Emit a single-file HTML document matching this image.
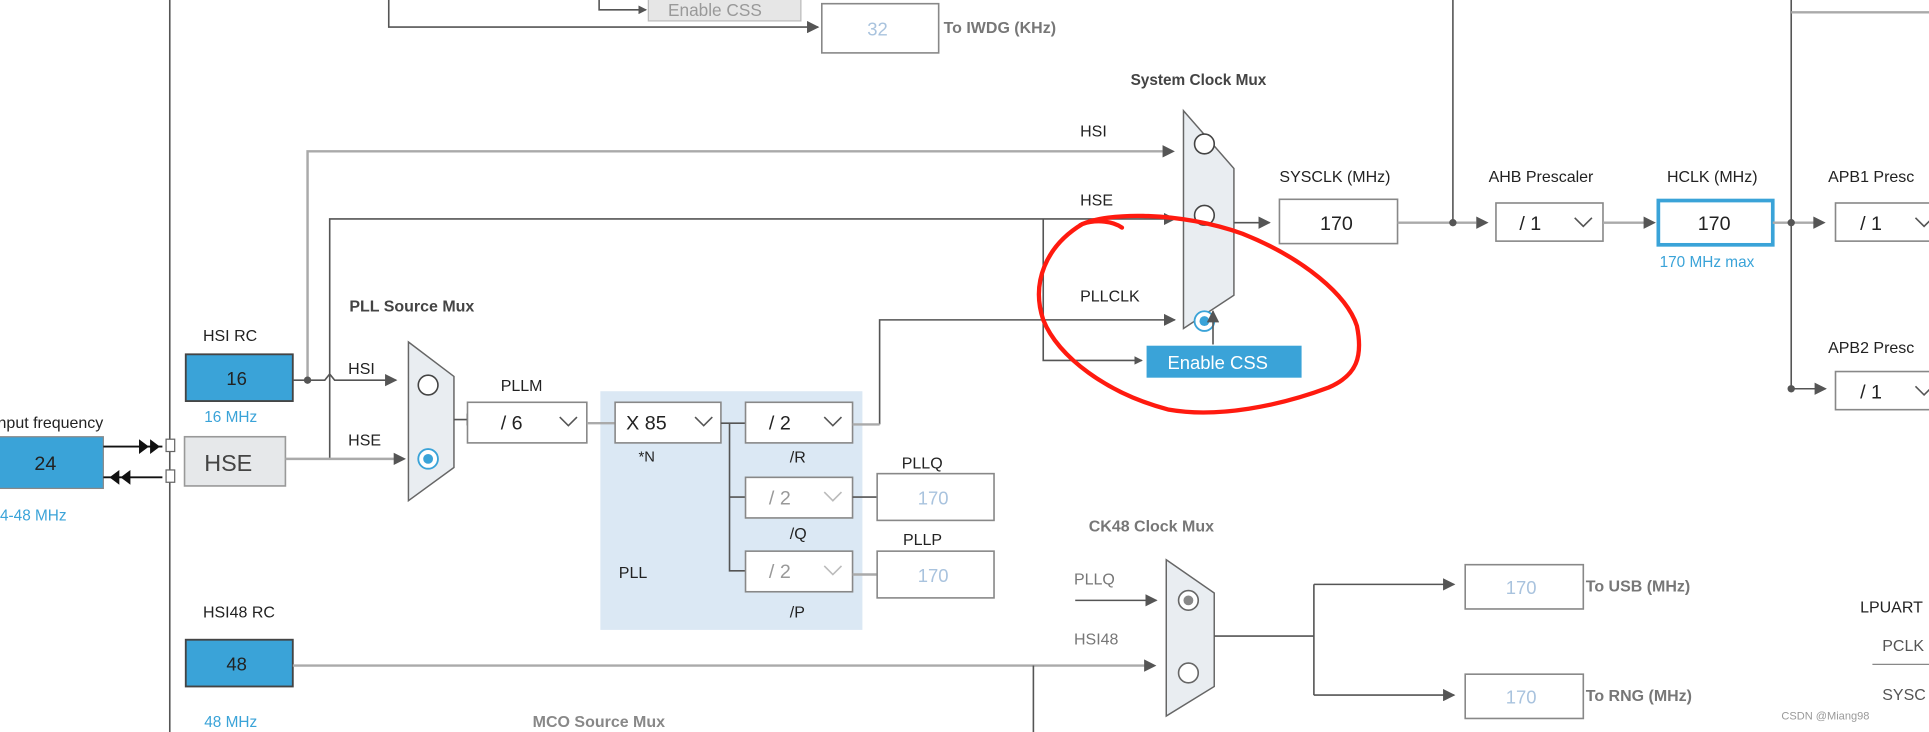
<!DOCTYPE html>
<html><head><meta charset="utf-8"><style>
html,body{margin:0;padding:0;background:#fff;overflow:hidden}
svg{display:block}
text{font-family:"Liberation Sans",Arial,sans-serif;font-size:13px;fill:#222}
.b{font-weight:bold;fill:#444}
.blue{fill:#3aa3d8;font-size:12.5px}
.w{fill:#fff}
.dim{fill:#a9c3de}
.ln{stroke:#555;stroke-width:1.3;fill:none}
.lg{stroke:#aaa;stroke-width:2;fill:none}
.box{fill:#fff;stroke:#888;stroke-width:1.3}
.bb{fill:#3aa3d8;stroke:#444;stroke-width:1.5}
.mux{fill:#e9edf1;stroke:#666;stroke-width:1.2}
</style></head><body>
<svg width="1929" height="732" viewBox="0 0 1568 595" preserveAspectRatio="none">
<defs>
<marker id="a" markerWidth="10" markerHeight="10" refX="9" refY="5" orient="auto" markerUnits="userSpaceOnUse"><path d="M0,0 L10,5 L0,10z" fill="#555"/></marker>
<marker id="s" markerWidth="7" markerHeight="7" refX="6" refY="3.5" orient="auto" markerUnits="userSpaceOnUse"><path d="M0,0 L7,3.5 L0,7z" fill="#555"/></marker>
</defs>
<!-- top area -->
<path class="ln" d="M316,0 V22 H665" marker-end="url(#a)"/>
<path class="ln" d="M487,0 V8 H525" marker-end="url(#s)"/>
<rect x="527" y="-2" width="124" height="19" fill="#e6e6e6" stroke="#bbb"/>
<text x="543" y="13" style="fill:#999;font-size:14px">Enable CSS</text>
<rect class="box" x="668" y="3" width="95" height="40"/>
<text x="705" y="29" class="dim" style="font-size:15px">32</text>
<text x="767" y="27" class="b" style="fill:#777">To IWDG (KHz)</text>
<line class="ln" x1="138" y1="0" x2="138" y2="595"/>
<line class="ln" x1="1181" y1="0" x2="1181" y2="181"/>
<line class="ln" x1="1456" y1="0" x2="1456" y2="316"/>
<line class="lg" x1="1456" y1="10" x2="1568" y2="10"/>
<!-- system clock mux -->
<text x="919" y="69" class="b" style="font-size:12.5px">System Clock Mux</text>
<path class="lg" d="M250,309 V123 H945"/><path d="M945,118 L955,123 L945,128z" fill="#555"/>
<path class="ln" d="M268,373 V178 H955" marker-end="url(#a)"/>
<path class="ln" d="M715,345 V260 H955" marker-end="url(#a)"/>
<path class="ln" d="M848,178 V293 H928" marker-end="url(#s)"/>
<text x="878" y="111">HSI</text><text x="878" y="167">HSE</text><text x="878" y="245">PLLCLK</text>
<path class="mux" d="M962,90 L1003,137 L1003,240 L962,267z"/>
<circle cx="979" cy="117" r="8" fill="#fff" stroke="#444" stroke-width="1.3"/>
<circle cx="979" cy="175" r="8" fill="#fff" stroke="#444" stroke-width="1.3"/>
<circle cx="979" cy="261" r="8" fill="#fff" stroke="#3aa3d8" stroke-width="1.5"/><circle cx="979" cy="261" r="4" fill="#3aa3d8"/>
<rect x="932" y="281" width="126" height="26" fill="#3aa3d8"/>
<text x="949" y="300" class="w" style="font-size:15px">Enable CSS</text>
<path class="ln" d="M986,280 V253" marker-end="url(#a)"/>
<path class="ln" d="M1003,181 H1032" marker-end="url(#a)"/>
<text x="1040" y="148">SYSCLK (MHz)</text>
<rect class="box" x="1040" y="162" width="96" height="36"/>
<text x="1073" y="187" style="font-size:16px">170</text>
<path class="lg" d="M1136,181 H1200"/><path d="M1200,176 L1210,181 L1200,186z" fill="#555"/>
<circle cx="1181" cy="181" r="3" fill="#555"/>
<text x="1210" y="148">AHB Prescaler</text>
<rect class="box" x="1216" y="165" width="87" height="31"/>
<text x="1235" y="187" style="font-size:16px">/ 1</text>
<path d="M1280,177 l7,7 l7,-7" class="ln"/>
<path class="lg" d="M1303,181 H1338"/><path d="M1336,176 L1346,181 L1336,186z" fill="#555"/>
<text x="1355" y="148">HCLK (MHz)</text>
<rect x="1348" y="163" width="93" height="36" fill="#fff" stroke="#3aa3d8" stroke-width="3"/>
<text x="1380" y="187" style="font-size:16px">170</text>
<text x="1349" y="217" class="blue">170 MHz max</text>
<path class="lg" d="M1441,181 H1476"/><path d="M1474,176 L1484,181 L1474,186z" fill="#555"/>
<circle cx="1456" cy="181" r="3" fill="#555"/>
<text x="1486" y="148">APB1 Presc</text>
<rect class="box" x="1492" y="165" width="90" height="31"/>
<text x="1512" y="187" style="font-size:16px">/ 1</text>
<path d="M1557,177 l7,7 l7,-7" class="ln"/>
<text x="1486" y="287">APB2 Presc</text>
<path class="ln" d="M1456,316 H1484" marker-end="url(#a)"/><circle cx="1456" cy="316" r="3" fill="#555"/>
<rect class="box" x="1492" y="302" width="90" height="31"/>
<text x="1512" y="324" style="font-size:16px">/ 1</text>
<path d="M1557,314 l7,7 l7,-7" class="ln"/>
<!-- left -->
<text x="-2" y="348">nput frequency</text>
<rect x="-2" y="355" width="86" height="42" fill="#3aa3d8" stroke="#888"/>
<text x="28" y="382" style="font-size:16px">24</text>
<text x="0" y="423" class="blue">4-48 MHz</text>
<line x1="84" y1="363" x2="132" y2="363" stroke="#111" stroke-width="1.5"/>
<path d="M113,357 L121,363 L113,369z M122,357 L130,363 L122,369z" fill="#111"/>
<line x1="84" y1="388" x2="132" y2="388" stroke="#111" stroke-width="1.5"/>
<path d="M97,382 L89,388 L97,394z M106,382 L98,388 L106,394z" fill="#111"/>
<rect x="135" y="357" width="7" height="10" fill="#fff" stroke="#666"/>
<rect x="135" y="382" width="7" height="10" fill="#fff" stroke="#666"/>
<rect x="150" y="355" width="82" height="40" fill="#e6e8ea" stroke="#999" stroke-width="1.3"/>
<text x="166" y="383" style="font-size:19px;fill:#444">HSE</text>
<text x="165" y="277">HSI RC</text>
<rect class="bb" x="151" y="288" width="87" height="38"/>
<text x="184" y="313" style="font-size:15px">16</text>
<text x="166" y="343" class="blue">16 MHz</text>
<path class="ln" d="M238,309 H264 l4,-5 l4,5 H322" marker-end="url(#a)"/>
<circle cx="250" cy="309" r="3" fill="#555"/>
<path class="lg" d="M232,373 H322"/><path d="M320,368 L330,373 L320,378z" fill="#555"/>
<text x="283" y="304">HSI</text><text x="283" y="362">HSE</text>
<text x="284" y="253" class="b">PLL Source Mux</text>
<path class="mux" d="M332,278 L369,306 L369,380 L332,407z"/>
<circle cx="348" cy="313" r="8" fill="#fff" stroke="#444" stroke-width="1.3"/>
<circle cx="348" cy="373" r="8" fill="#fff" stroke="#3aa3d8" stroke-width="1.5"/><circle cx="348" cy="373" r="4" fill="#3aa3d8"/>
<path class="ln" d="M369,341 H388" marker-end="url(#a)"/>
<text x="407" y="318">PLLM</text>
<rect x="488" y="318" width="213" height="194" fill="#dbe8f4"/>
<rect class="box" x="380" y="327" width="97" height="33"/>
<text x="407" y="349" style="font-size:16px">/ 6</text>
<path d="M455,339 l7,7 l7,-7" class="ln"/>
<line class="lg" x1="477" y1="344" x2="500" y2="344"/>
<rect class="box" x="500" y="327" width="86" height="33"/>
<text x="509" y="349" style="font-size:16px">X 85</text>
<path d="M565,339 l7,7 l7,-7" class="ln"/>
<text x="519" y="375" style="font-size:12px">*N</text>
<path class="ln" d="M586,344 H606 M593,344 V464 H606 M593,404 H606"/>
<rect class="box" x="606" y="327" width="87" height="33"/>
<text x="625" y="349" style="font-size:16px">/ 2</text>
<path d="M670,339 l7,7 l7,-7" class="ln"/>
<text x="642" y="376">/R</text>
<path class="lg" d="M693,345 H715"/>
<rect class="box" x="606" y="388" width="87" height="33"/>
<text x="625" y="410" style="font-size:16px;fill:#999">/ 2</text>
<path d="M670,400 l7,7 l7,-7" fill="none" stroke="#bbb" stroke-width="1.3"/>
<text x="642" y="438">/Q</text>
<rect class="box" x="606" y="448" width="87" height="33"/>
<text x="625" y="470" style="font-size:16px;fill:#999">/ 2</text>
<path d="M670,460 l7,7 l7,-7" fill="none" stroke="#bbb" stroke-width="1.3"/>
<text x="642" y="502">/P</text>
<text x="503" y="470">PLL</text>
<line class="ln" x1="693" y1="404" x2="713" y2="404"/>
<line class="lg" x1="693" y1="467" x2="713" y2="467"/>
<text x="733" y="381">PLLQ</text>
<rect class="box" x="713" y="385" width="95" height="38"/>
<text x="746" y="410" class="dim" style="font-size:15px">170</text>
<text x="734" y="443">PLLP</text>
<rect class="box" x="713" y="448" width="95" height="38"/>
<text x="746" y="473" class="dim" style="font-size:15px">170</text>
<!-- HSI48 / CK48 -->
<text x="165" y="502">HSI48 RC</text>
<rect class="bb" x="151" y="520" width="87" height="38"/>
<text x="184" y="545" style="font-size:15px">48</text>
<text x="166" y="591" class="blue">48 MHz</text>
<path class="lg" d="M238,541 H932"/><path d="M930,536 L940,541 L930,546z" fill="#555"/>
<line class="ln" x1="840" y1="541" x2="840" y2="595"/>
<text x="433" y="591" class="b" style="fill:#888">MCO Source Mux</text>
<text x="885" y="432" class="b" style="fill:#777">CK48 Clock Mux</text>
<text x="873" y="475" style="fill:#777">PLLQ</text>
<path class="ln" d="M874,488 H940" marker-end="url(#a)"/>
<text x="873" y="524" style="fill:#777">HSI48</text>
<path class="mux" d="M948,455 L987,482 L987,558 L948,582z"/>
<circle cx="966" cy="488" r="8" fill="#fff" stroke="#666" stroke-width="1.3"/><circle cx="966" cy="488" r="4" fill="#888"/>
<circle cx="966" cy="547" r="8" fill="#fff" stroke="#666" stroke-width="1.3"/>
<path class="ln" d="M987,517 H1068 M1068,475 V565"/>
<path class="ln" d="M1068,475 H1182" marker-end="url(#a)"/>
<path class="ln" d="M1068,565 H1182" marker-end="url(#a)"/>
<rect class="box" x="1191" y="459" width="96" height="36"/>
<text x="1224" y="483" class="dim" style="font-size:15px">170</text>
<rect class="box" x="1191" y="548" width="96" height="36"/>
<text x="1224" y="572" class="dim" style="font-size:15px">170</text>
<text x="1289" y="481" class="b" style="fill:#777">To USB (MHz)</text>
<text x="1289" y="570" class="b" style="fill:#777">To RNG (MHz)</text>
<text x="1512" y="498">LPUART</text>
<text x="1530" y="529" style="fill:#555">PCLK</text>
<line x1="1522" y1="540" x2="1568" y2="540" stroke="#888"/>
<text x="1530" y="569" style="fill:#555">SYSC</text>
<text x="1448" y="585" style="font-size:9px;fill:#999">CSDN @Miang98</text>
<!-- red ellipse -->
<path d="M878,183 C900,172 960,172 1010,190 C1060,210 1095,240 1103,265 C1108,290 1103,305 1080,315 C1040,330 990,340 950,333 C900,320 860,290 848,260 C838,230 850,200 880,182 C892,178 905,180 912,185" fill="none" stroke="#ff1a0f" stroke-width="3.5" stroke-linecap="round"/>
</svg>
</body></html>
